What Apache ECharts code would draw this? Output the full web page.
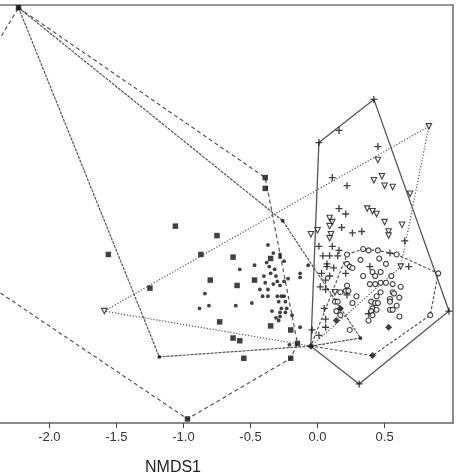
<!DOCTYPE html>
<html><head><meta charset="utf-8">
<script src="https://cdn.jsdelivr.net/npm/echarts@6/dist/echarts.min.js"></script>
<style>html,body{margin:0;padding:0;background:#fff}#c{width:474px;height:474px}</style>
</head><body><div id="c"></div>
<script>
// NMDS scores per group (x = NMDS1, y = NMDS2)
const squares = [[-3.18,0.91],[-2.23,2.48],[-1.56,0.65],[-1.25,0.40],[-1.06,0.86],[-0.97,-0.57],[-0.87,0.65],[-0.80,0.46],[-0.75,0.79],[-0.73,0.15],[-0.63,0.63],[-0.63,0.03],[-0.60,0.42],[-0.58,0.01],[-0.55,-0.12],[-0.47,0.46],[-0.39,1.22],[-0.39,1.14],[-0.35,0.62],[-0.35,0.12],[-0.20,0.09],[-0.15,-0.01],[-0.20,-0.12]];
const dots = [[-2.23,2.48],[-0.37,0.72],[-0.33,0.66],[-0.28,0.65],[-0.38,0.59],[-0.28,0.63],[-0.25,0.60],[-0.47,0.57],[-0.36,0.56],[-0.58,0.54],[-0.32,0.54],[-0.35,0.51],[-0.40,0.49],[-0.31,0.49],[-0.22,0.47],[-0.39,0.44],[-0.30,0.45],[-0.25,0.45],[-0.33,0.43],[-0.28,0.42],[-0.43,0.39],[-0.37,0.39],[-0.84,0.36],[-0.41,0.34],[-0.37,0.34],[-0.30,0.34],[-0.27,0.34],[-0.25,0.34],[-0.29,0.30],[-0.24,0.30],[-0.49,0.29],[-0.81,0.27],[-0.61,0.27],[-0.88,0.25],[-0.27,0.25],[-0.23,0.25],[-0.34,0.23],[-0.28,0.22],[-0.24,0.22],[-0.19,0.20],[-0.31,0.18],[-0.28,0.19],[-0.29,0.16],[-0.13,0.11],[-0.07,0.57],[-0.13,0.51],[-0.13,0.48],[-0.21,-0.02],[-1.18,-0.11],[-0.26,0.90],[0.32,0.03]];
const pluses = [[0.42,1.80],[0.16,1.57],[0.01,1.48],[0.45,1.45],[0.11,1.22],[0.22,1.16],[0.16,0.99],[0.21,0.95],[0.18,0.85],[0.26,0.81],[0.33,0.82],[0.65,0.75],[0.01,0.71],[0.11,0.71],[0.16,0.68],[0.04,0.64],[0.09,0.64],[0.15,0.64],[0.07,0.58],[0.07,0.56],[0.12,0.55],[0.03,0.51],[0.21,0.51],[0.09,0.49],[0.06,0.46],[0.02,0.41],[0.06,0.39],[0.39,0.56],[0.54,0.66],[0.68,0.56],[0.38,0.21],[0.05,0.25],[0.06,0.17],[0.06,0.11],[0.01,0.05],[-0.04,0.09],[0.22,0.35],[0.98,0.23],[0.31,-0.31]];
const triangles = [[0.83,1.60],[0.45,1.35],[0.48,1.23],[0.42,1.20],[0.50,1.16],[0.56,1.15],[0.69,1.10],[0.37,0.99],[0.41,0.97],[0.44,0.95],[0.50,0.89],[0.63,0.87],[0.09,0.92],[0.11,0.89],[0.09,0.86],[0.53,0.82],[0.53,0.79],[0.10,0.80],[0.09,0.77],[-0.05,0.80],[0.00,0.83],[0.62,0.56],[0.13,0.37],[-1.59,0.23]];
const circles = [[0.22,0.65],[0.34,0.69],[0.38,0.68],[0.45,0.68],[0.59,0.65],[0.32,0.61],[0.46,0.62],[0.22,0.58],[0.24,0.56],[0.26,0.55],[0.51,0.58],[0.41,0.52],[0.47,0.52],[0.34,0.49],[0.43,0.49],[0.55,0.49],[0.39,0.43],[0.43,0.43],[0.47,0.44],[0.51,0.44],[0.56,0.43],[0.62,0.41],[0.22,0.42],[0.17,0.37],[0.21,0.38],[0.23,0.38],[0.47,0.37],[0.56,0.37],[0.57,0.36],[0.54,0.32],[0.44,0.34],[0.61,0.33],[0.29,0.34],[0.13,0.30],[0.15,0.30],[0.26,0.29],[0.40,0.30],[0.43,0.29],[0.45,0.29],[0.41,0.25],[0.44,0.24],[0.40,0.23],[0.41,0.20],[0.38,0.16],[0.14,0.23],[0.17,0.20],[0.24,0.09],[0.54,0.30],[0.54,0.24],[0.56,0.24],[0.59,0.27],[0.61,0.19],[0.84,0.20],[0.90,0.51]];
const diamonds = [[0.17,0.25],[0.14,0.16],[0.53,0.11],[0.41,-0.10],[-0.05,-0.03]];

// convex hulls (vertex order)
const hullSquares = [[-2.23,2.48],[-0.39,1.22],[-0.15,-0.01],[-0.20,-0.12],[-0.97,-0.57],[-3.18,0.91],[-2.23,2.48]];
const hullDots = [[-2.23,2.48],[-0.26,0.90],[0.32,0.03],[-0.05,-0.03],[-1.18,-0.11],[-2.23,2.48]];
const hullPluses = [[0.42,1.80],[0.98,0.23],[0.31,-0.31],[-0.05,-0.03],[0.01,1.48],[0.42,1.80]];
const hullTriangles = [[-1.59,0.23],[0.83,1.60],[0.62,0.56],[-0.05,-0.03],[-1.59,0.23]];
const hullCircles = [[0.22,0.65],[0.34,0.69],[0.45,0.68],[0.59,0.65],[0.90,0.51],[0.84,0.20],[0.41,-0.10],[-0.05,-0.03],[0.22,0.65]];

const xTicks = [-2.0,-1.5,-1.0,-0.5,0.0,0.5];

const chart = echarts.init(document.getElementById('c'), null, {renderer:'canvas'});
const lineCol = '#555';
function hull(data, type, w){
  return {type:'line', data, symbol:'none', silent:true, clip:true, z:1,
    lineStyle:{color:lineCol, width:w||1.2, type}, animation:false};
}
function pts(data, symbol, size, open, rot){
  return {type:'scatter', data, symbol, symbolSize:size, symbolRotate:rot||0, z:5, clip:true, animation:false,
    itemStyle: open ? {color:'#fff', borderColor:'#111', borderWidth:1.1} : {color:'#111'}};
}
const plusPath = 'path://M3.25,0h1.5v3.25h3.25v1.5h-3.25v3.25h-1.5v-3.25h-3.25v-1.5h3.25z';
chart.setOption({
  animation:false,
  title:{text:'NMDS1', left:140, top:455, textStyle:{fontFamily:'Liberation Sans, Arial, sans-serif', fontSize:16, fontWeight:'normal', color:'#222'}},
  grid:{left:0, right:21, top:5, bottom:51},
  xAxis:[{type:'value', min:-2.368, max:1.01, position:'bottom',
    axisLine:{show:true, onZero:false, lineStyle:{color:'#666', width:1.5}},
    axisTick:{show:true, length:5, inside:false, customValues:xTicks, lineStyle:{color:'#444'}},
    axisLabel:{customValues:xTicks, formatter:v=>Number(v).toFixed(1), fontSize:13, color:'#333', margin:8, fontFamily:'Liberation Sans, Arial, sans-serif'},
    splitLine:{show:false}},
   {type:'value', min:-2.368, max:1.01, position:'top',
    axisLine:{show:true, onZero:false, lineStyle:{color:'#777', width:1.5}},
    axisTick:{show:false}, axisLabel:{show:false}, splitLine:{show:false}}],
  yAxis:{type:'value', min:-0.6, max:2.5, position:'right',
    axisLine:{show:true, onZero:false, lineStyle:{color:'#666', width:1.5}},
    axisTick:{show:false}, axisLabel:{show:false}, splitLine:{show:false}},
  series:[
    hull(hullSquares,[4,3]),
    hull(hullDots,[3,1]),
    hull(hullPluses,'solid',1.3),
    hull(hullTriangles,[1.2,1.8]),
    hull(hullCircles,[3,2]),
    pts(squares,'rect',5.5,false),
    pts(dots,'circle',3.8,false),
    pts(pluses,plusPath,7,false),
    pts(triangles,'triangle',5.5,true,180),
    pts(circles,'circle',5,true),
    pts(diamonds,'diamond',7,false)
  ]
});
</script></body></html>
